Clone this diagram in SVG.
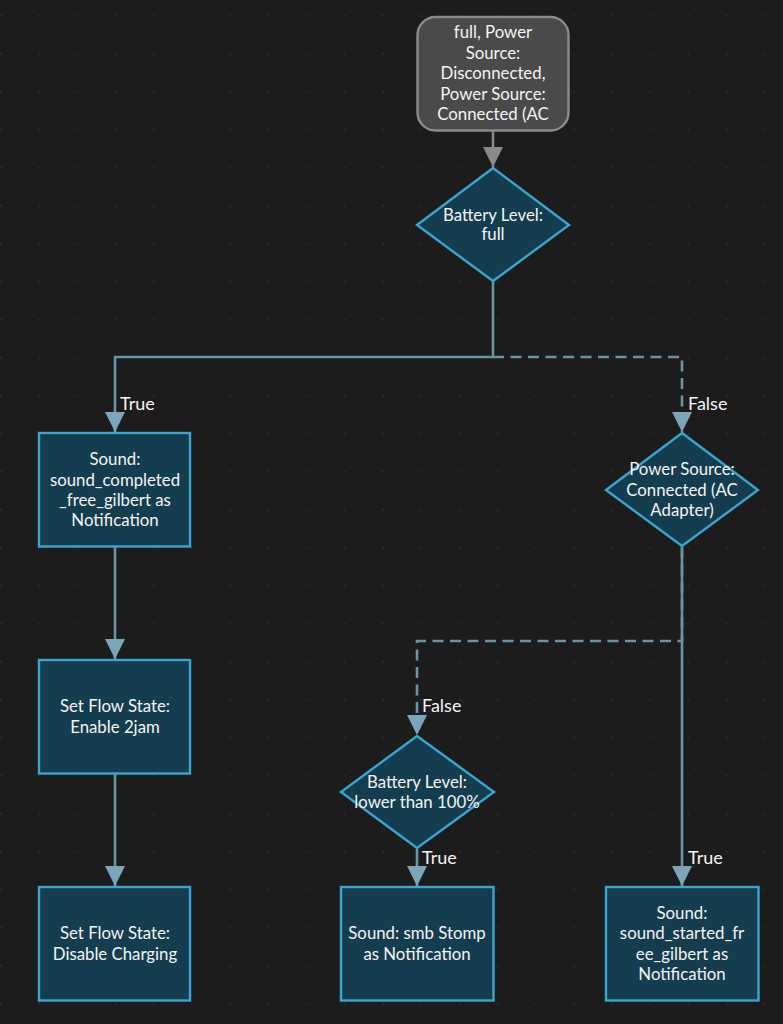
<svg xmlns="http://www.w3.org/2000/svg" width="783" height="1024" viewBox="0 0 783 1024">
<style>
.n{fill:#143d4f;stroke:#3aa6d0;stroke-width:2.4}
.s{fill:#4a4a4a;stroke:#8c8c8c;stroke-width:2.4}
.c{fill:none;stroke:#6a93a6;stroke-width:2.6}
.d{stroke-dasharray:11 6.500}
.g{fill:none;stroke:#8a8a8a;stroke-width:2.6}
text{font-family:"Lato","Noto Sans",sans-serif;font-size:16.800px;fill:#f4f4f4;text-anchor:middle}
.l{text-anchor:start;font-size:18px}
</style>
<defs>
<pattern id="dots" width="38.200" height="38" patternUnits="userSpaceOnUse" x="0" y="15">
<rect x="0" y="0" width="2" height="1.500" fill="#2e2e2e"/>
</pattern>
<marker id="a" markerUnits="userSpaceOnUse" markerWidth="22" markerHeight="22" refX="20" refY="10" orient="auto"><path d="M0 0L20 10L0 20Z" fill="#7ba6b9"/></marker>
<marker id="b" markerUnits="userSpaceOnUse" markerWidth="22" markerHeight="22" refX="20" refY="10" orient="auto"><path d="M0 0L20 10L0 20Z" fill="#8a8a8a"/></marker>
</defs>
<rect width="783" height="1024" fill="#1c1c1c"/>
<rect y="15" width="783" height="1009" fill="url(#dots)"/>
<g id="connectors">
<path class="g" d="M493 131V167" marker-end="url(#b)"/>
<path class="c" d="M493 282V357H115V432" marker-end="url(#a)"/>
<path class="c d" d="M493 357H682V432" marker-end="url(#a)"/>
<path class="c" d="M115 547V659" marker-end="url(#a)"/>
<path class="c" d="M115 774V886" marker-end="url(#a)"/>
<path class="c d" d="M682 547V641H417V735" marker-end="url(#a)"/>
<path class="c" d="M682 547V886" marker-end="url(#a)"/>
<path class="c" d="M417 849V886" marker-end="url(#a)"/>
<text class="l" x="120" y="410">True</text>
<text class="l" x="688" y="410">False</text>
<text class="l" x="422" y="712">False</text>
<text class="l" x="422" y="864">True</text>
<text class="l" x="688" y="864">True</text>
</g>
<g id="start"><rect class="s" x="417.500" y="17" width="151" height="113.500" rx="18"/>
<text x="493" y="38">full, Power</text><text x="493" y="58.500">Source:</text><text x="493" y="79">Disconnected,</text><text x="493" y="99.500">Power Source:</text><text x="493" y="120">Connected (AC</text></g>
<g id="d1"><polygon class="n" points="493,168 569,225 493,281 417,225"/>
<text x="493" y="221">Battery Level:</text><text x="493" y="240">full</text></g>
<g id="s1"><rect class="n" x="39" y="433" width="151" height="113.500"/>
<text x="115" y="465">Sound:</text><text x="115" y="485.500">sound_completed</text><text x="115" y="506">_free_gilbert as</text><text x="115" y="526">Notification</text></g>
<g id="d2"><polygon class="n" points="682,433 758,490 682,546 606,490"/>
<text x="682" y="475">Power Source:</text><text x="682" y="496">Connected (AC</text><text x="682" y="516">Adapter)</text></g>
<g id="s2"><rect class="n" x="39" y="660" width="151" height="113.500"/>
<text x="115" y="712">Set Flow State:</text><text x="115" y="733">Enable 2jam</text></g>
<g id="s3"><rect class="n" x="39" y="887" width="151" height="113.500"/>
<text x="115" y="939">Set Flow State:</text><text x="115" y="960">Disable Charging</text></g>
<g id="d3"><polygon class="n" points="417,736 494,792 417,848 341,792"/>
<text x="417" y="788">Battery Level:</text><text x="417" y="808">lower than 100%</text></g>
<g id="s4"><rect class="n" x="341" y="887" width="152.500" height="113.500"/>
<text x="417" y="939">Sound: smb Stomp</text><text x="417" y="960">as Notification</text></g>
<g id="s5"><rect class="n" x="606" y="887" width="152.500" height="113.500"/>
<text x="682" y="919">Sound:</text><text x="682" y="939">sound_started_fr</text><text x="682" y="960">ee_gilbert as</text><text x="682" y="980">Notification</text></g>
</svg>
